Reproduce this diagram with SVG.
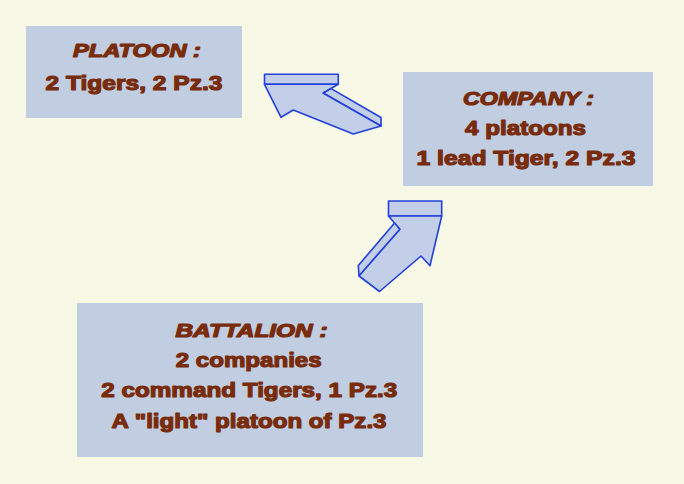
<svg xmlns="http://www.w3.org/2000/svg" width="684" height="484" viewBox="0 0 684 484">
<defs>
<style>
.bg{fill:#F8F8E6}
.box{fill:#C1CDE1}
.t{font-family:"Liberation Sans",Arial,sans-serif;font-weight:bold;fill:#782C0C;stroke:#782C0C;stroke-width:1.2;stroke-linejoin:round;text-anchor:middle}
.h{font-size:18px;font-style:italic}
.b{font-size:20.5px}
.ar{fill:#C3CEE8;stroke:#2240DD;stroke-width:1.6;stroke-linejoin:round}
</style>
</defs>
<rect class="bg" x="0" y="0" width="684" height="484"/>
<g id="platoon">
<rect class="box" x="26" y="26" width="216" height="92"/>
<text class="t h" x="137" y="57" textLength="128" lengthAdjust="spacingAndGlyphs">PLATOON :</text>
<text class="t b" x="134" y="90" textLength="177" lengthAdjust="spacingAndGlyphs">2 Tigers, 2 Pz.3</text>
</g>
<g id="company">
<rect class="box" x="403" y="72" width="250" height="114"/>
<text class="t h" x="528.5" y="104.7" textLength="131" lengthAdjust="spacingAndGlyphs">COMPANY :</text>
<text class="t b" x="525.5" y="134.7" textLength="121" lengthAdjust="spacingAndGlyphs">4 platoons</text>
<text class="t b" x="526" y="164.7" textLength="219" lengthAdjust="spacingAndGlyphs">1 lead Tiger, 2 Pz.3</text>
</g>
<g id="battalion">
<rect class="box" x="77" y="303" width="346" height="154"/>
<text class="t h" x="251.5" y="336.7" textLength="152" lengthAdjust="spacingAndGlyphs">BATTALION :</text>
<text class="t b" x="248.7" y="366.7" textLength="146" lengthAdjust="spacingAndGlyphs">2 companies</text>
<text class="t b" x="249.3" y="397.3" textLength="296" lengthAdjust="spacingAndGlyphs">2 command Tigers, 1 Pz.3</text>
<text class="t b" x="249" y="427.7" textLength="275" lengthAdjust="spacingAndGlyphs">A "light" platoon of Pz.3</text>
</g>
<g id="connectors">
<g id="arrow-company-platoon">
<polygon class="ar" points="264.5,74.3 338.3,74.3 338.3,84.3 264.5,84.3"/>
<polygon class="ar" points="323,93 381,126 381,117.5 330.7,88.4"/>
<polygon class="ar" points="264.5,84.3 338.3,84.3 323,93 381,126 353.3,134 293.3,110 281,117.3"/>
</g>
<g id="arrow-battalion-company">
<polygon class="ar" points="388.5,201 441.7,201 441.7,216 388.5,216"/>
<polygon class="ar" points="359,276 400,229.3 394.8,222.8 358.3,265.5"/>
<polygon class="ar" points="388.5,216 441.7,216 430,265.7 421,256 379.5,291.5 359,276 400,229.3"/>
</g>
</g>
</svg>
